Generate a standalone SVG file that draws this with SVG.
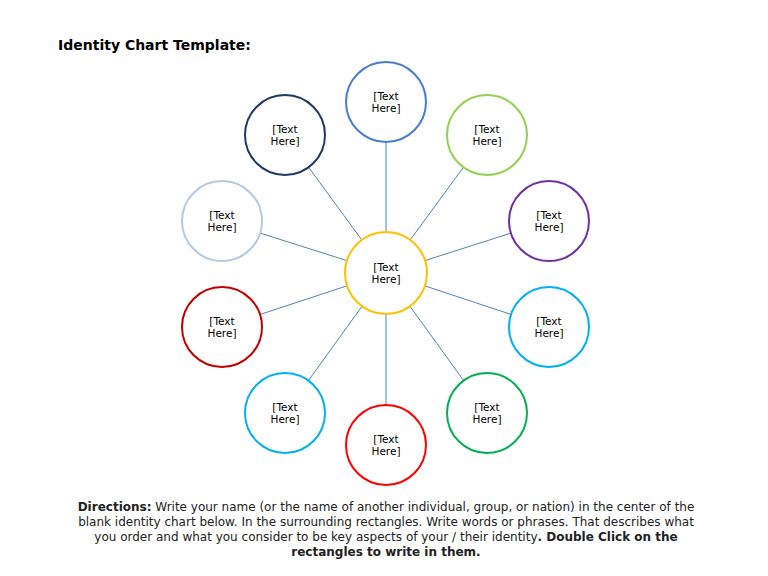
<svg xmlns="http://www.w3.org/2000/svg" width="768" height="576" viewBox="0 0 768 576">
<style>
.n{fill:#fff;stroke-width:2}
.t{font-family:"DejaVu Sans",sans-serif;font-size:10.5px;text-anchor:middle;fill:#000}
.d{font-family:"DejaVu Sans",sans-serif;font-size:12px;text-anchor:middle;fill:#222}
.c line{stroke:#4f81bd;stroke-width:1}
</style>
<rect width="768" height="576" fill="#fff"/>
<text x="58" y="50" font-family="DejaVu Sans,sans-serif" font-size="14" font-weight="bold">Identity Chart Template:</text>
<g class="c">
<line x1="386" y1="273" x2="386" y2="102"/>
<line x1="386" y1="273" x2="487" y2="135"/>
<line x1="386" y1="273" x2="549" y2="221"/>
<line x1="386" y1="273" x2="549" y2="327"/>
<line x1="386" y1="273" x2="487" y2="413"/>
<line x1="386" y1="273" x2="386" y2="445"/>
<line x1="386" y1="273" x2="285" y2="413"/>
<line x1="386" y1="273" x2="222" y2="327"/>
<line x1="386" y1="273" x2="222" y2="221"/>
<line x1="386" y1="273" x2="285" y2="135"/>
</g>
<g id="center"><circle class="n" cx="386" cy="273" r="41" stroke="#ffc000"/><text class="t" x="386" y="271">[Text</text><text class="t" x="386" y="283">Here]</text></g>
<g id="n1"><circle class="n" cx="386" cy="102" r="40" stroke="#4a7ccc"/><text class="t" x="386" y="100">[Text</text><text class="t" x="386" y="112">Here]</text></g>
<g id="n2"><circle class="n" cx="487" cy="135" r="40" stroke="#92d050"/><text class="t" x="487" y="133">[Text</text><text class="t" x="487" y="145">Here]</text></g>
<g id="n3"><circle class="n" cx="549" cy="221" r="40" stroke="#7030a0"/><text class="t" x="549" y="219">[Text</text><text class="t" x="549" y="231">Here]</text></g>
<g id="n4"><circle class="n" cx="549" cy="327" r="40" stroke="#00b0f0"/><text class="t" x="549" y="325">[Text</text><text class="t" x="549" y="337">Here]</text></g>
<g id="n5"><circle class="n" cx="487" cy="413" r="40" stroke="#00b050"/><text class="t" x="487" y="411">[Text</text><text class="t" x="487" y="423">Here]</text></g>
<g id="n6"><circle class="n" cx="386" cy="445" r="40" stroke="#ff0000"/><text class="t" x="386" y="443">[Text</text><text class="t" x="386" y="455">Here]</text></g>
<g id="n7"><circle class="n" cx="285" cy="413" r="40" stroke="#00b0f0"/><text class="t" x="285" y="411">[Text</text><text class="t" x="285" y="423">Here]</text></g>
<g id="n8"><circle class="n" cx="222" cy="327" r="40" stroke="#c00000"/><text class="t" x="222" y="325">[Text</text><text class="t" x="222" y="337">Here]</text></g>
<g id="n9"><circle class="n" cx="222" cy="221" r="40" stroke="#b4c7e7"/><text class="t" x="222" y="219">[Text</text><text class="t" x="222" y="231">Here]</text></g>
<g id="n10"><circle class="n" cx="285" cy="135" r="40" stroke="#1f3864"/><text class="t" x="285" y="133">[Text</text><text class="t" x="285" y="145">Here]</text></g>
<text class="d" x="386" y="511"><tspan font-weight="bold">Directions:</tspan> Write your name (or the name of another individual, group, or nation) in the center of the</text>
<text class="d" x="386" y="526">blank identity chart below. In the surrounding rectangles. Write words or phrases. That describes what</text>
<text class="d" x="386" y="541">you order and what you consider to be key aspects of your / their identity<tspan font-weight="bold">. Double Click on the</tspan></text>
<text class="d" x="386" y="556" font-weight="bold">rectangles to write in them.</text>
</svg>
